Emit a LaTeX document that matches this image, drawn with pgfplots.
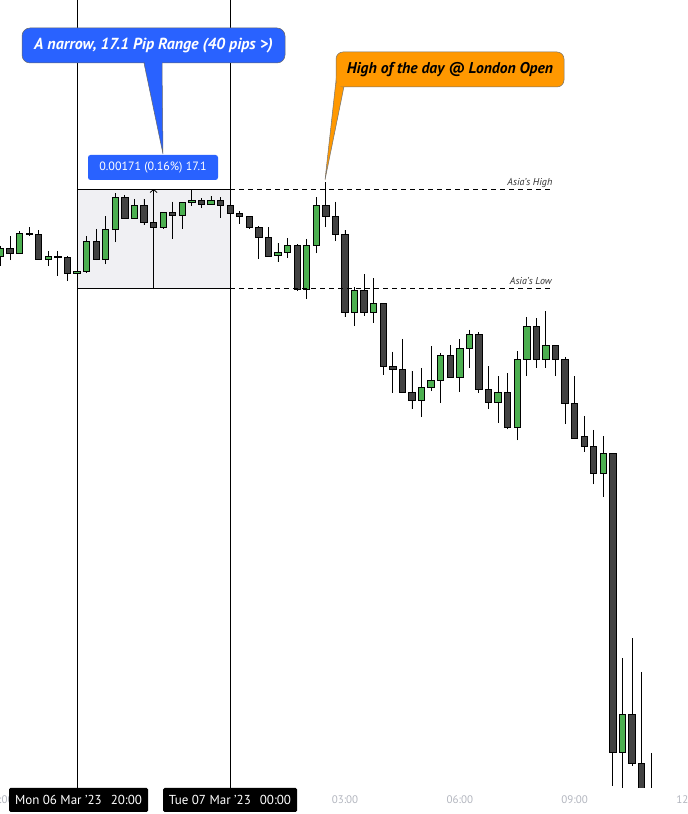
\documentclass[border=0pt]{standalone}
\usepackage{pgfplots}
\pgfplotsset{compat=1.18}
\usepackage{pgfplotstable}
\usepgfplotslibrary{statistics}
\usetikzlibrary{arrows.meta}
\usepackage{fontspec}
\setmainfont{PT Sans}

\definecolor{candleup}{HTML}{4CAF50}
\definecolor{candledown}{HTML}{424242}
\definecolor{measurefill}{HTML}{F0F0F3}
\definecolor{tvblue}{HTML}{2962FF}
\definecolor{tvorange}{HTML}{FF9800}
\definecolor{tickgrey}{HTML}{B2B5BE}

% 15-minute candles, i = 0 is Mon 06 Mar 20:00
% prices in pips above 1.06800
\pgfplotstableread{
i   o      h      l      c
-8   2.3    4.2    0.7    3.8
-7   3.8    5.9    1.7    2.8
-6   2.8    6.7    2.8    6.4
-5   6.4    7.4    5.9    6.1
-4   6.1    6.9    1.9    1.9
-3   1.9    3.3    0.7    2.3
-2   2.3    3.3   -1.0    2.1
-1   2.1    2.4   -1.9   -0.5
0   -0.5   -0.2   -0.7   -0.2
1   -0.2    5.9   -0.5    5.0
2    5.0    7.1    1.7    1.9
3    1.9    9.3    1.0    7.1
4    7.1   13.3    4.8   12.6
5   12.6   13.0    9.0    9.0
6    9.0   12.3    8.8   11.1
7   11.1   12.3    7.8    8.3
8    8.3    8.3    7.4    7.4
9    7.3   10.0    7.1    9.9
10   9.9   11.8    5.4    9.5
11   9.5   11.6    7.1   11.6
12  11.6   14.0   11.1   12.1
13  12.1   12.4   10.7   11.4
14  11.4   12.8   11.4   12.1
15  12.1   12.6    9.0   11.2
16  11.2   11.2    9.7    9.7
17   9.7   10.2    8.0    9.3
18   9.3    9.3    7.1    7.4
19   7.4    7.6    1.9    5.7
20   5.7    7.4    2.3    2.4
21   2.6    4.7    1.4    3.1
22   3.1    5.5    2.1    4.3
23   4.3    4.5   -3.6   -3.3
24  -3.3    5.4   -5.0    4.3
25   4.3   12.6    2.9   11.2
26  11.2   15.2    7.4    9.3
27   9.3   11.8    5.0    6.1
28   6.1    6.9   -8.1   -7.4
29  -7.4   -2.9   -9.7   -3.6
30  -3.6   -0.7   -7.9   -7.4
31  -7.4   -1.4   -9.1   -5.7
32  -5.7   -5.7  -18.1  -16.7
33 -16.7  -14.1  -21.2  -17.1
34 -17.1  -11.9  -21.2  -21.2
35 -21.2  -17.4  -24.0  -22.6
36 -22.6  -16.9  -25.4  -20.2
37 -20.2  -13.1  -20.9  -19.0
38 -19.0  -14.3  -23.0  -14.7
39 -14.7  -12.9  -18.6  -18.6
40 -18.6  -11.9  -21.1  -13.6
41 -13.6  -10.3  -16.9  -11.2
42 -11.2  -10.7  -21.2  -20.7
43 -20.7  -16.6  -24.0  -22.8
44 -22.8  -18.3  -26.4  -21.2
45 -21.2  -17.8  -27.5  -27.1
46 -27.1  -14.0  -29.4  -15.4
47 -15.4   -8.1  -18.3   -9.8
48  -9.8   -8.3  -16.9  -15.4
49 -15.4   -7.1  -16.9  -13.1
50 -13.1  -13.1  -18.3  -15.4
51 -15.4  -15.0  -26.6  -23.1
52 -23.1  -18.3  -29.2  -29.0
53 -28.8  -25.2  -31.4  -30.4
54 -30.4  -27.6  -37.0  -35.2
55 -35.2  -28.7  -39.2  -31.6
56 -31.6  -31.6  -89.1  -83.4
57 -83.4  -67.0  -91.5  -76.7
58 -76.7  -63.6  -85.7  -85.3
59 -85.3  -69.4  -95.0  -93.3
60 -95.0  -83.4  -98.5  -96.7
}\candles

\begin{document}
\begin{tikzpicture}
\useasboundingbox (0pt,0pt) rectangle (688pt,814pt);
\pgfplotstablegetrowsof{\candles}
\pgfmathtruncatemacro\lastrow{\pgfplotsretval-1}
\begin{axis}[
    at={(0pt,26pt)}, anchor=south west,
    scale only axis, width=694.27pt, height=788pt,
    xmin=-8.046, xmax=64.5,
    ymin=-89.46, ymax=46.65,
    axis line style={draw=none},
    ytick=\empty,
    xtick={-8,28,40,52,64},
    xticklabels={18:00,03:00,06:00,09:00,12:00},
    major tick length=0pt,
    xticklabel style={font=\fontsize{11}{13}\selectfont, text=tickgrey, yshift=-4pt},
    clip mode=individual,
    candle/.style={solid, draw=black, line width=0.9pt, mark=none,
        boxplot/draw direction=y,
        boxplot/box extend=0.66, boxplot/whisker extend=0},
]
% Asia session box
\fill[measurefill] (axis cs:0,-3.1) rectangle (axis cs:16,14.0);
\draw[line width=0.8pt] (axis cs:0,-89.46) -- (axis cs:0,46.65);
\draw[line width=0.8pt] (axis cs:16,-89.46) -- (axis cs:16,46.65);
\draw[line width=0.8pt, -{Straight Barb[length=3pt,width=7pt]}]
    (axis cs:8,-3.1) -- (axis cs:8,14.0);

\pgfplotsinvokeforeach{0,...,\lastrow}{%
  \pgfplotstablegetelem{#1}{i}\of\candles \let\ci\pgfplotsretval
  \pgfplotstablegetelem{#1}{o}\of\candles \let\co\pgfplotsretval
  \pgfplotstablegetelem{#1}{h}\of\candles \let\chigh\pgfplotsretval
  \pgfplotstablegetelem{#1}{l}\of\candles \let\clow\pgfplotsretval
  \pgfplotstablegetelem{#1}{c}\of\candles \let\cc\pgfplotsretval
  \ifdim\cc pt>\co pt
    \def\cfill{candleup}\let\cmin\co\let\cmax\cc
  \else
    \def\cfill{candledown}\let\cmin\cc\let\cmax\co
  \fi
  \edef\candleplot{\noexpand\addplot[candle, fill=\cfill,
      boxplot prepared={draw position=\ci, lower whisker=\clow,
      lower quartile=\cmin, median=\cmin, upper quartile=\cmax,
      upper whisker=\chigh}] coordinates {};}
  \candleplot
}

\draw[line width=0.8pt] (axis cs:0,14.0) -- (axis cs:16,14.0);
\draw[line width=0.8pt] (axis cs:0,-3.1) -- (axis cs:16,-3.1);
\draw[line width=0.8pt, dash pattern=on 5pt off 4pt] (axis cs:16,14.0) -- (axis cs:49.63,14.0);
\draw[line width=0.8pt, dash pattern=on 5pt off 4pt] (axis cs:16,-3.1) -- (axis cs:49.63,-3.1);
\end{axis}

\begin{scope}[x=1pt,y=1pt]
% level labels
\node[anchor=base east, inner sep=0pt, text=black!80, font=\fontsize{10}{12}\selectfont\itshape]
    at (552.5,628) {Asia's High};
\node[anchor=base east, inner sep=0pt, text=black!80, font=\fontsize{10}{12}\selectfont\itshape]
    at (552,529) {Asia's Low};

% measurement label
\node[fill=tvblue, text=white, rounded corners=2.5pt, minimum width=130pt, minimum height=25pt,
    inner sep=0pt, font=\fontsize{12}{14}\selectfont] at (153,646.5) {0.00171 (0.16\%) 17.1};

% blue callout
\filldraw[fill=tvblue, draw=black!60, line width=0.5pt] (144,751) -- (163,660) -- (162,751) -- cycle;
\filldraw[fill=tvblue, draw=black!60, line width=0.5pt, rounded corners=8pt] (22,751) rectangle (285,786);
\fill[tvblue] (144.8,749.5) rectangle (161.7,752.5);
\node[text=white, font=\fontsize{16}{19}\selectfont\bfseries\itshape] at (153.5,768.5)
    {A narrow, 17.1 Pip Range (40 pips >)};

% orange callout
\filldraw[fill=tvorange, draw=black!55, line width=0.5pt] (336.5,738) -- (325,634) -- (344,727.5) -- cycle;
\filldraw[fill=tvorange, draw=black!55, line width=0.5pt, rounded corners=7pt] (336,727) rectangle (564,762);
\fill[tvorange] (336.7,726.5) -- (344,728) -- (336.7,738) -- cycle;
\node[text=black, font=\fontsize{15.6}{18}\selectfont\bfseries\itshape] at (450,744.5)
    {High of the day @ London Open};

% time labels
\node[fill=black, text=white, rounded corners=1.5pt, minimum width=139pt, minimum height=24pt,
    inner sep=0pt, font=\fontsize{13}{15}\selectfont] at (78.5,14)
    {Mon 06 Mar '23\hspace{9pt}20:00};
\node[fill=black, text=white, rounded corners=1.5pt, minimum width=134pt, minimum height=24pt,
    inner sep=0pt, font=\fontsize{13}{15}\selectfont] at (230,14)
    {Tue 07 Mar '23\hspace{9pt}00:00};
\end{scope}
\end{tikzpicture}
\end{document}
